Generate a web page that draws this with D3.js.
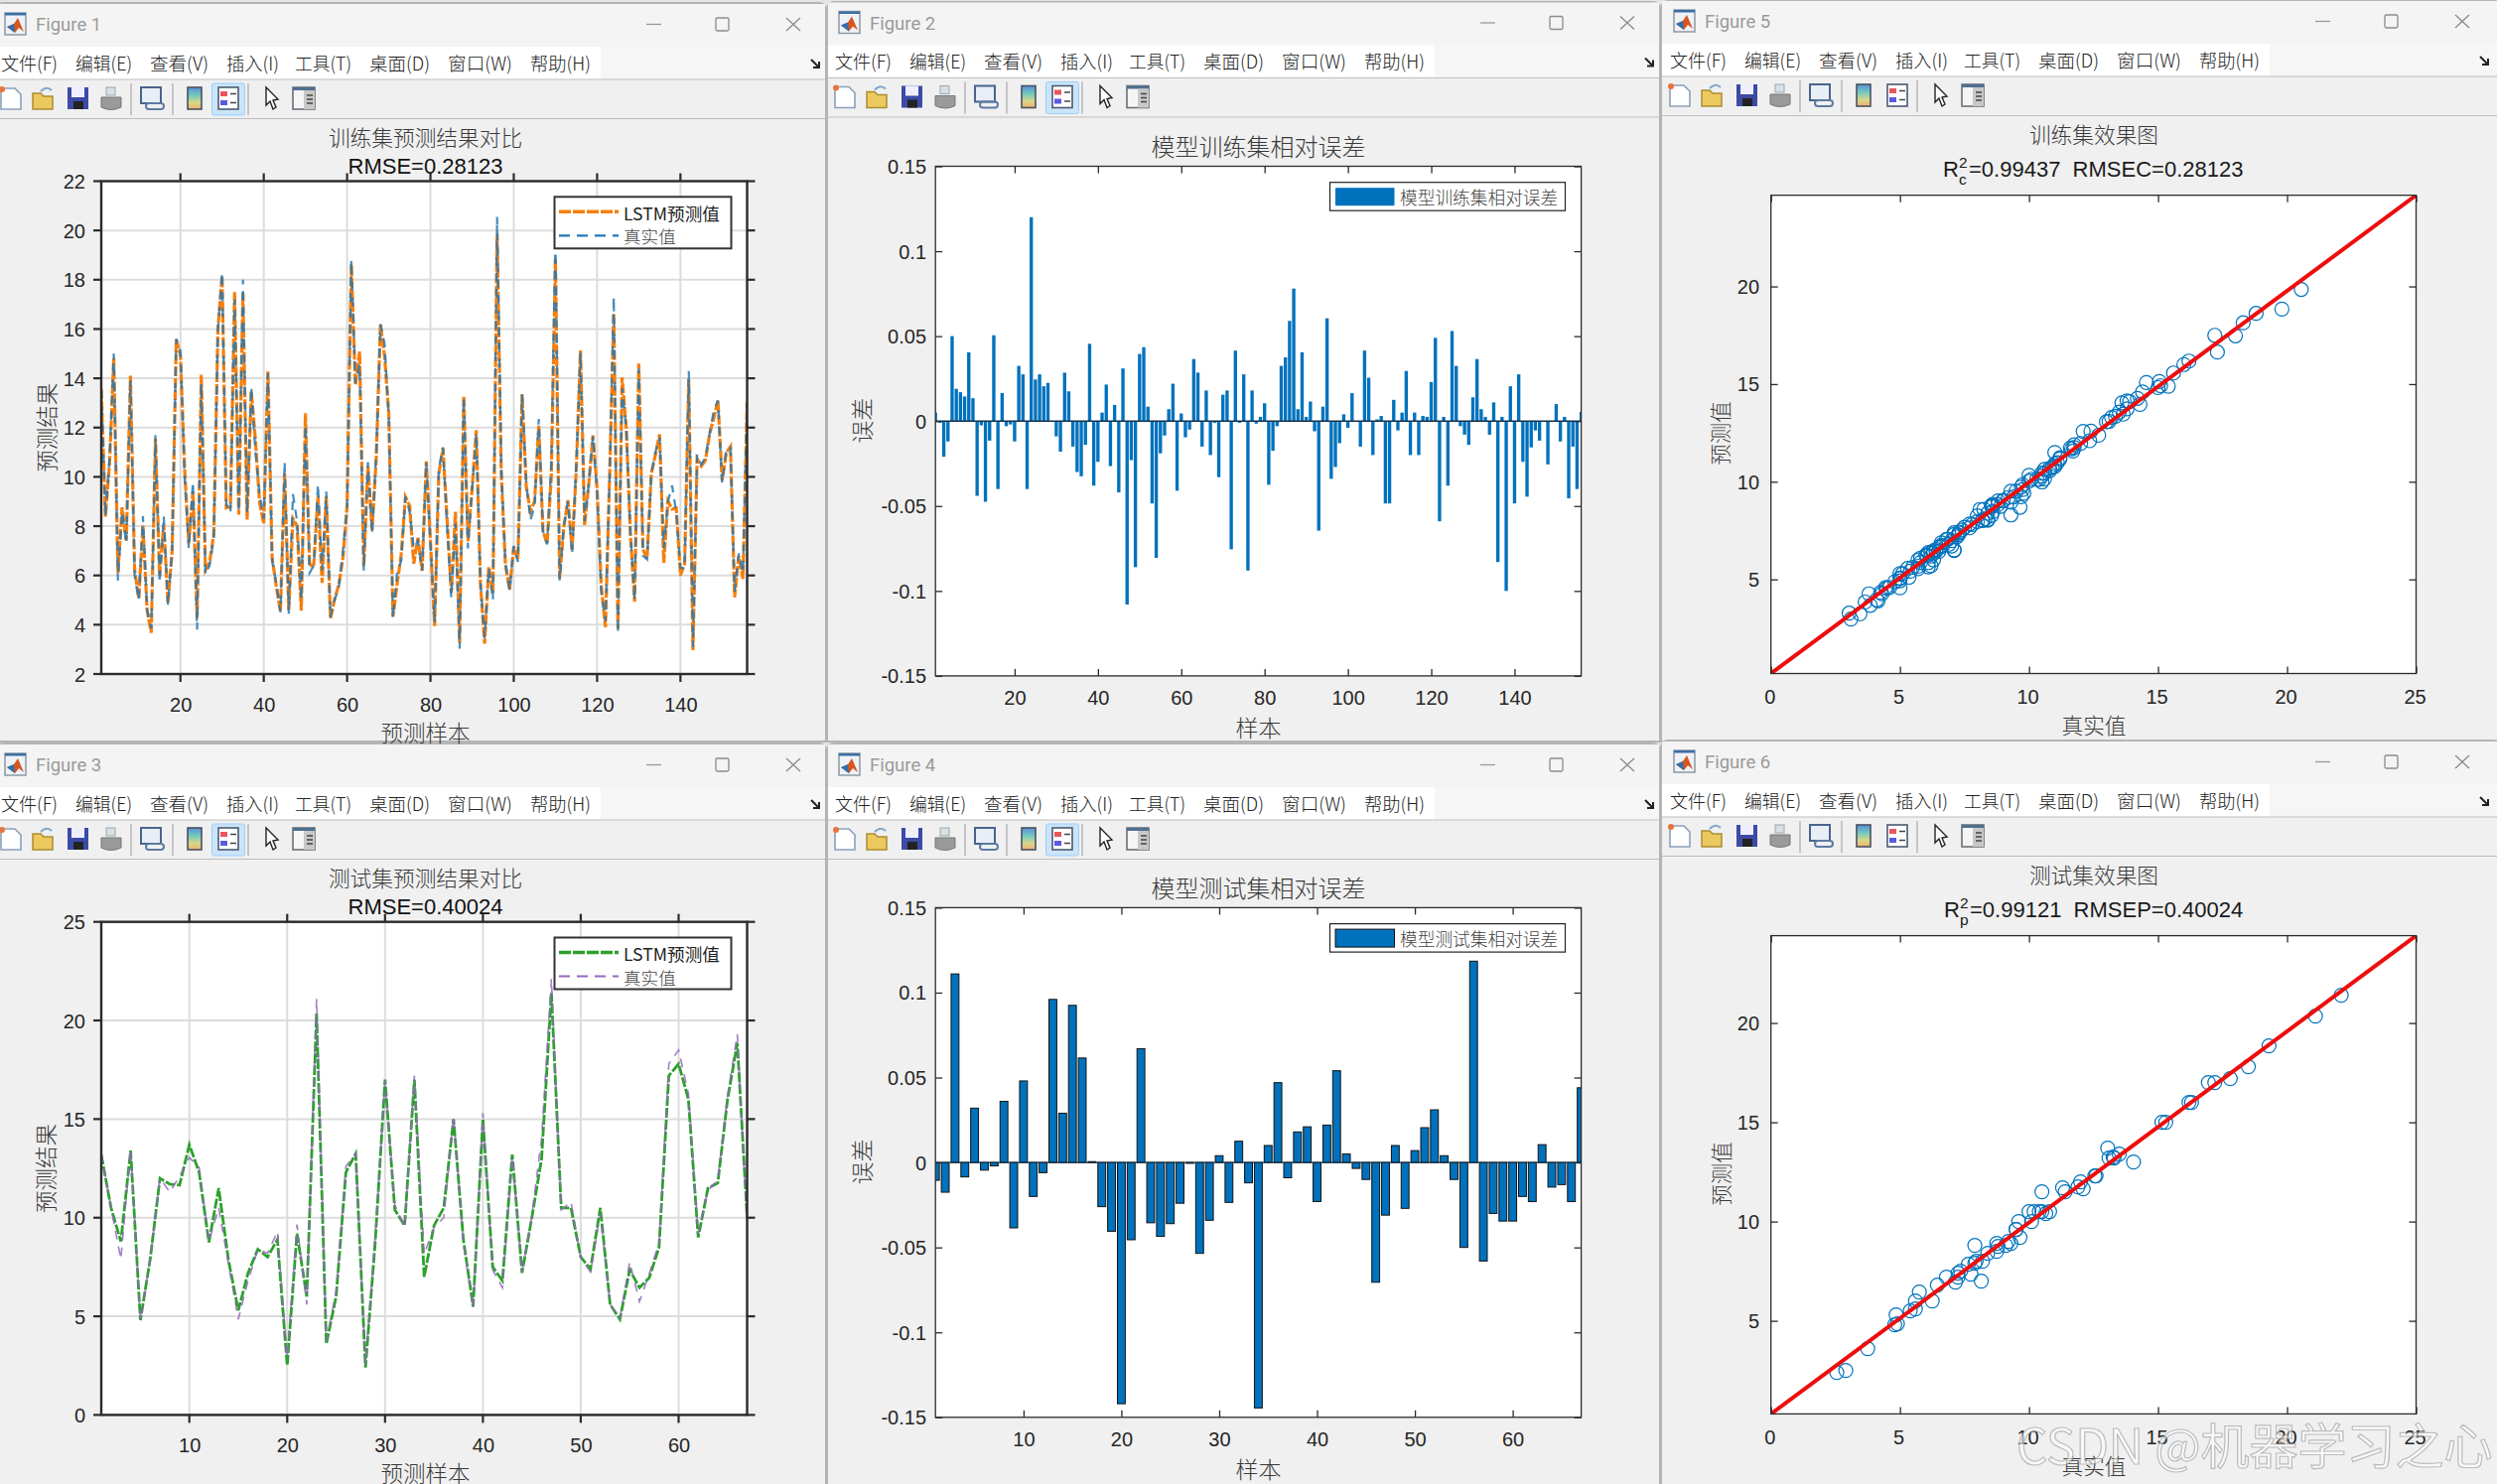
<!DOCTYPE html>
<html><head><meta charset="utf-8">
<script src="https://cdn.jsdelivr.net/npm/d3@7/dist/d3.min.js"></script>
<style>html,body{margin:0;padding:0;background:#e4e4e4;overflow:hidden}svg{display:block}</style>
</head><body><svg id="c" width="2515" height="1495"></svg>
<script>
const trainTrue=[13.5,8.4,10.8,15,5.8,8.6,7.3,13.9,6,5,
8.4,4.6,3.85,11.7,5.7,8.4,4.8,7,15.6,15.1,
10,7.1,9.8,3.8,13.8,6.05,6.4,7.5,16,18.3,
8.9,8.55,17.2,8.6,18,8.55,13.65,11,9.3,8.3,
14.2,6.6,5.7,4.5,10.6,4.45,9.3,8.2,5,12.1,
6.1,6.4,9.7,6.2,9.4,4.3,5,5.5,7,8.8,
18.8,13.8,14.55,6.2,10.6,7.7,11,16.2,15.4,12.4,
4.25,6.1,6.6,9.2,8.6,7.1,7.4,6.2,10.6,7.3,
4.1,10.3,11.2,8,5.1,8.1,3.03,13.2,7.1,9.5,
11.75,5.7,3.45,6.3,5,20.55,10.4,6.5,5.4,7.2,
6.55,13.35,9.75,8.25,8.8,12.35,7.8,7.26,10.5,19.8,
5.8,8,9,6.85,10.5,15.05,8.2,9.7,11.65,9.3,
5.3,4.15,10,17.3,3.65,13.6,12,7.7,5,14.4,
6.8,6.65,10.1,11,11.6,7.1,9,9.65,8.55,6.3,
6.3,14.3,3.1,10.9,10.5,10.8,11.75,12.7,13.1,9.75,
11.1,11.2,5.35,6.9,6.1,13];
const trainPred=[13.57,8.39,10.57,14.82,6.09,8.76,7.42,14.1,6.24,5.07,
8.03,4.59,3.67,11.57,5.99,8.06,4.88,6.98,15.57,14.92,
10.33,7.3,9.41,4.26,14.14,6.22,6.53,7.67,16,18.14,
8.74,8.79,17.5,8.47,17.47,8.27,13.46,11.5,8.95,8.1,
14.27,6.74,5.55,4.54,10.15,4.59,8.3,8.01,4.57,12.58,
6.37,6.45,9.23,5.7,9.22,4.26,5.04,5.62,6.71,8.84,
18.62,13.73,15.08,6.38,10.44,7.84,10.78,16.18,14.89,12.59,
4.33,5.64,6.87,9.19,8.84,6.48,7.53,6.19,10.63,7.38,
3.95,10.12,11.17,8.26,5.29,8.58,3.27,13.29,7.39,9.52,
11.89,5.67,3.23,6.35,5.3,19.85,10.12,6.42,5.42,7.17,
6.66,13.35,9.6,8.59,9.02,12.1,7.81,7.28,9.99,18.84,
5.87,7.96,9.05,7.05,10.29,15.13,8.04,9.73,11.68,9.51,
5.56,3.9,10.03,16.64,3.84,14.04,11.96,7.64,4.93,14.6,
7.05,6.7,10.13,10.91,11.73,6.51,9.02,8.69,8.73,6,
6.47,13.96,2.97,10.73,10.44,10.68,11.75,12.38,13.09,9.85,
10.97,11.23,5.11,6.8,5.86,13.07];
const trainErr=[.005,-.001,-.021,-.012,.05,.019,.017,.0145,.0405,.0135,
-.044,-.0025,-.0475,-.0115,.0505,-.04,.0165,-.003,-.002,-.012,
.0325,.0275,-.04,.12,.0245,.0275,.0205,.0225,0,-.009,
-.018,.0285,.0175,-.015,-.03,-.0325,-.014,.0455,-.038,-.024,
.005,.0215,-.0265,.0095,-.042,.031,-.108,-.023,-.086,.0395,
.0435,.0085,-.0485,-.0805,-.019,-.0085,.007,.022,-.041,.0045,
-.0095,-.005,.0365,.0285,-.015,.018,-.02,-.001,-.033,.0155,
.018,-.0755,.0415,-.001,.0275,-.088,.018,-.0015,.0025,.0105,
-.0375,-.0175,-.003,.0325,.0375,.059,.078,.007,.0405,.0025,
.0115,-.006,-.0645,.0085,.0605,-.034,-.027,-.013,.004,-.004,
.0165,0,-.015,.0415,.0255,-.02,.001,.003,-.0485,-.0485,
.0125,-.0055,.005,.0295,-.02,.005,-.02,.003,.0025,.023,
.049,-.059,.0025,-.038,.053,.0325,-.003,-.008,-.014,.014,
.0365,.007,.0025,-.008,.011,-.083,.0025,-.1,.0205,-.0485,
.0275,-.024,-.0445,-.0155,-.0055,-.0115,0,-.0255,-.0005,.01,
-.012,.0025,-.0455,-.015,-.04,.0055];
const testTrue=[13.3,10.5,7.9,13.5,4.8,7.9,12,11.3,12.1,13.05,
12.55,8.8,10.5,7.65,4.85,6.8,8.4,8.2,9.3,2.9,
9.65,5.6,21.1,3.75,6.25,12.6,13.26,2.55,9.1,16.95,
10.65,9.5,17.2,8.15,9.5,10,15.15,8.75,5.4,15.3,
7.35,6.45,13.1,7.25,10.1,14.05,22.1,10.4,10.8,7.95,
7.25,10.2,5.6,4.9,7.75,5.75,7.15,8.75,17.8,18.5,
16.3,9.2,11.4,11.9,16.2,19.3,9.6];
const testPred=[13.2,10.5,8.8,13.4,4.8,7.9,12,11.7,11.65,13.7,
12.3,8.75,11.5,7.85,5.3,7.2,8.4,8,8.9,2.5,
9.2,6,20.35,3.6,6,12.3,13.25,2.4,8.8,17,
10.4,9.6,17,7,9.6,10.5,15,8.9,5.5,15,
7.5,6.8,13.2,7.2,10,13,21.4,10.5,10.5,8,
7.4,10.5,5.6,4.85,7.35,6.45,6.95,8.5,17.2,17.8,
16,9,11.5,11.75,16,18.85,10];
const testErr=[-.0105,-.0175,.111,-.0085,.032,-.0045,-.002,.036,-.0385,.048,
-.02,-.006,.096,.029,.0925,.0615,.0005,-.026,-.0405,-.142,
-.0455,.067,-.0355,-.0435,-.036,-.024,-.0005,-.0535,-.034,.004,
-.0235,.0125,-.012,-.1445,.01,.047,-.009,.018,.021,-.023,
.022,.054,.005,-.0035,-.01,-.0705,-.031,.01,-.027,.007,
.0205,.031,.004,-.01,-.05,.1185,-.058,-.03,-.0345,-.0345,
-.02,-.023,.0105,-.0145,-.013,-.023,.044];
const trainTicks=[20,40,60,80,100,120,140];
const testTicks=[10,20,30,40,50,60];
const errTicks=[-.15,-.1,-.05,0,.05,.1,.15];
const errLabels=["-0.15","-0.1","-0.05","0","0.05","0.1","0.15"];
const trainLineTicksY=[2,4,6,8,10,12,14,16,18,20,22];
const testLineTicksY=[0,5,10,15,20,25];
const scatterTicksX=[0,5,10,15,20,25];
const scatterTicksY=[5,10,15,20];
const refX=[0,25];
const refY5=[0.18,24.67];
const refY6=[0.31,24.4];
const menuLabels=["文件(F)","编辑(E)","查看(V)","插入(I)","工具(T)","桌面(D)","窗口(W)","帮助(H)"];

const CJK="'Noto Sans CJK SC','Liberation Sans',sans-serif", LAT="'Liberation Sans',Arial,sans-serif";
const svg=d3.select("#c");
const defs=svg.append("defs");
const grad=defs.append("linearGradient").attr("id","cb").attr("x1",0).attr("x2",0).attr("y1",0).attr("y2",1);
[["0%","#5a8fd8"],["35%","#6fc8c0"],["70%","#d6d88a"],["100%","#f0b070"]].forEach(s=>grad.append("stop").attr("offset",s[0]).attr("stop-color",s[1]));

function chrome(w){
  const g=svg.append("g");
  g.append("path").attr("d",`M${w.x0},${w.y1} V${w.y0+8} Q${w.x0},${w.y0} ${w.x0+8},${w.y0} H${w.x1-8} Q${w.x1},${w.y0} ${w.x1},${w.y0+8} V${w.y1} Z`)
    .attr("fill","#f0f0f0").attr("stroke","#b4b4b4").attr("stroke-width",2);
  const l=g.append("g").attr("transform",`translate(${w.dx},${w.dy})`);
  const W=w.x1-w.x0;
  l.append("rect").attr("x",w.x0-w.dx+1).attr("y",4).attr("width",W-2).attr("height",43).attr("fill","#f4f4f4");
  l.append("rect").attr("x",w.x0-w.dx+1).attr("y",47).attr("width",W-2).attr("height",33).attr("fill","#f6f6f6");
  l.append("rect").attr("x",w.x0-w.dx+1).attr("y",47).attr("width",604-(w.x0-w.dx)).attr("height",33).attr("fill","#ffffff");
  [80,119.5].forEach(y=>l.append("line").attr("x1",w.x0-w.dx+1).attr("x2",w.x1-w.dx-1).attr("y1",y).attr("y2",y).attr("stroke","#bdbdbd").attr("stroke-width",1.2));
  // logo
  l.append("rect").attr("x",5).attr("y",13).attr("width",21).attr("height",22).attr("fill","#eef2f6").attr("stroke","#8b98a5").attr("stroke-width",1.5);
  l.append("rect").attr("x",5).attr("y",13).attr("width",21).attr("height",2.5).attr("fill","#3a6ea5");
  l.append("path").attr("d","M7,27 L14,24 L18,18 L24,32 L19,28 L15,33 Z").attr("fill","#d9551f");
  l.append("path").attr("d","M7,27 L14,24 L15,33 Z").attr("fill","#2f6fb0");
  l.append("text").attr("x",36).attr("y",25).attr("dominant-baseline","central").attr("font-family","Roboto,"+LAT).attr("font-size",18.5).attr("fill","#9a9a9a").text(w.name);
  // buttons
  l.append("line").attr("x1",651).attr("x2",666).attr("y1",24.5).attr("y2",24.5).attr("stroke","#9a9a9a").attr("stroke-width",1.3);
  l.append("rect").attr("x",721).attr("y",18).attr("width",13).attr("height",13).attr("rx",1.5).attr("fill","none").attr("stroke","#8a8a8a").attr("stroke-width",1.3);
  l.append("path").attr("d","M792,18 L806,31 M806,18 L792,31").attr("stroke","#8a8a8a").attr("stroke-width",1.3);
  // menu
  const mx=[1,76,151,228,297,372,451,534];
  menuLabels.forEach((m,i)=>l.append("text").attr("x",mx[i]).attr("y",62.5).attr("dominant-baseline","central").attr("font-family",CJK).attr("font-size",18.5).attr("font-weight",300).attr("fill","#222").attr("textLength",[57,57,59,53,57,61,65,61][i]).attr("lengthAdjust","spacingAndGlyphs").text(m));
  l.append("path").attr("d","M817,60 L825,68 M825,62 V68 H819").attr("stroke","#222").attr("fill","none").attr("stroke-width",2);
  // icons
  l.append("path").attr("d","M1,89 H15 L21,95 V110 H1 Z").attr("fill","#fff").attr("stroke","#8aa0bd").attr("stroke-width",1.6);
  l.append("circle").attr("cx",2).attr("cy",90).attr("r",3).attr("fill","#e8743b");
  l.append("path").attr("d","M33,110 V94 H41 L44,97 H53 V110 Z").attr("fill","#ecc95f").attr("stroke","#ab8c32").attr("stroke-width",1.5);
  l.append("path").attr("d","M41,92 Q47,86 52,91").attr("stroke","#7fa7c9").attr("stroke-width",2).attr("fill","none");
  l.append("rect").attr("x",68).attr("y",88).attr("width",21).attr("height",22).attr("fill","#3c4aa6");
  l.append("rect").attr("x",72).attr("y",88).attr("width",13).attr("height",10).attr("fill","#eef");
  l.append("rect").attr("x",74).attr("y",102).attr("width",10).attr("height",8).attr("fill","#222");
  l.append("rect").attr("x",107).attr("y",88).attr("width",9).attr("height",8).attr("fill","#d8dfe6").attr("stroke","#9aa").attr("stroke-width",1);
  l.append("path").attr("d","M102,98 H122 V108 Q112,113 102,108 Z").attr("fill","#9a9a9a").attr("stroke","#777");
  [132,174,250].forEach(x=>l.append("line").attr("x1",x).attr("x2",x).attr("y1",84).attr("y2",116).attr("stroke","#a8a8a8").attr("stroke-width",1.2));
  l.append("rect").attr("x",142).attr("y",88).attr("width",20).attr("height",16).attr("fill","#e8eef5").attr("stroke","#48648c").attr("stroke-width",2);
  l.append("rect").attr("x",147).attr("y",104).attr("width",18).attr("height",6).attr("rx",3).attr("fill","none").attr("stroke","#5d7ba3").attr("stroke-width",2);
  l.append("rect").attr("x",189).attr("y",88).attr("width",14).attr("height",22).attr("fill","url(#cb)").attr("stroke","#4a5260").attr("stroke-width",1.6);
  if(w.active) l.append("rect").attr("x",213.5).attr("y",84).attr("width",33).attr("height",32).attr("rx",2).attr("fill","#cce4f7").attr("stroke","#99d1ff");
  l.append("rect").attr("x",220).attr("y",88).attr("width",20).attr("height",22).attr("fill","#fff").attr("stroke","#4a5a72").attr("stroke-width",1.6);
  l.append("rect").attr("x",222).attr("y",92).attr("width",7).attr("height",5).attr("fill","#e8565a");
  l.append("rect").attr("x",222).attr("y",101).attr("width",7).attr("height",5).attr("fill","#5a5ae0");
  l.append("path").attr("d","M232,94.5 H238 M232,103.5 H238").attr("stroke","#444").attr("stroke-width",1.5);
  l.append("path").attr("d","M268,88 L268,106 L272,102 L275,110 L278,108 L275,101 L280,100 Z").attr("fill","#fff").attr("stroke","#222").attr("stroke-width",1.4);
  l.append("rect").attr("x",295).attr("y",88).attr("width",22).attr("height",22).attr("fill","#f5f5f5").attr("stroke","#6a7078").attr("stroke-width",1.6);
  l.append("rect").attr("x",295).attr("y",88).attr("width",22).attr("height",3).attr("fill","#4f6f8f");
  l.append("rect").attr("x",306).attr("y",91).attr("width",11).attr("height",19).attr("fill","#c8c8c8");
  l.append("path").attr("d","M309,96 H315 M309,100 H315 M309,104 H315").attr("stroke","#444").attr("stroke-width",1.3);
}

function axes(o){
  const g=svg.append("g");
  g.append("rect").attr("x",o.l).attr("y",o.t).attr("width",o.r-o.l).attr("height",o.b-o.t).attr("fill","#fff");
  const x=d3.scaleLinear().domain(o.xd).range([o.l,o.r]);
  const y=d3.scaleLinear().domain(o.yd).range([o.b,o.t]);
  if(o.grid){
    g.selectAll(".gx").data(o.xt).join("line").attr("x1",d=>x(d)).attr("x2",d=>x(d)).attr("y1",o.t).attr("y2",o.b).attr("stroke","#dcdcdc").attr("stroke-width",2);
    g.selectAll(".gy").data(o.yt).join("line").attr("y1",d=>y(d)).attr("y2",d=>y(d)).attr("x1",o.l).attr("x2",o.r).attr("stroke","#dcdcdc").attr("stroke-width",2);
  }
  const id="clip"+o.id;
  defs.append("clipPath").attr("id",id).append("rect").attr("x",o.l).attr("y",o.t).attr("width",o.r-o.l).attr("height",o.b-o.t);
  const plot=g.append("g").attr("clip-path",`url(#${id})`);
  const over=g.append("g");
  const ts=o.tick, sw=o.sw, col="#2b2b2b";
  const fmtY=o.yf||(d=>d);
  const mk=(ax,tr)=>{const a=over.append("g").attr("transform",tr).call(ax);a.select(".domain").remove();a.selectAll("line").attr("stroke",col).attr("stroke-width",sw);return a;};
  const ab=mk(d3.axisBottom(x).tickValues(o.xt).tickSize(ts).tickFormat(d=>d),`translate(0,${o.b})`);
  ab.selectAll("text").attr("x",o.xlx||0).attr("y",o.xly-o.b).attr("dy",0).attr("dominant-baseline","central").attr("font-size",20).attr("font-family",LAT).attr("fill","#262626");
  const al=mk(d3.axisLeft(y).tickValues(o.yt).tickSize(ts).tickFormat(fmtY),`translate(${o.l},0)`);
  al.selectAll("text").attr("x",o.ylx-o.l).attr("dy",0).attr("dominant-baseline","central").attr("font-size",20).attr("font-family",LAT).attr("fill","#262626");
  const at=mk(d3.axisTop(x).tickValues(o.xt).tickSize(ts),`translate(0,${o.t})`); at.selectAll("text").remove();
  const ar=mk(d3.axisRight(y).tickValues(o.yt).tickSize(ts),`translate(${o.r},0)`); ar.selectAll("text").remove();
  over.append("rect").attr("x",o.l).attr("y",o.t).attr("width",o.r-o.l).attr("height",o.b-o.t).attr("fill","none").attr("stroke",col).attr("stroke-width",sw);
  return {x,y,plot,over};
}
function cjk(p,x,yy,s,t,fill,anchor,rot){
  const e=p.append("text").attr("x",x).attr("y",yy).attr("font-family",CJK).attr("font-size",s).attr("font-weight",300).attr("fill",fill||"#3a3a3a").attr("text-anchor",anchor||"middle").attr("dominant-baseline","central").text(t);
  if(rot) e.attr("transform",`rotate(-90 ${x} ${yy})`);
  return e;
}
function lineChart(o){
  const a=axes({id:o.id,l:102,r:752.5,t:o.t,b:o.b,xd:o.xd,yd:o.yd,xt:o.xt,yt:o.yt,tick:0,sw:2.4,grid:true,xly:o.b+30.5,ylx:86});
  o.xt.forEach(v=>{a.over.append("line").attr("x1",a.x(v)).attr("x2",a.x(v)).attr("y1",o.t-8).attr("y2",o.t).attr("stroke","#2b2b2b").attr("stroke-width",2.2);
    a.over.append("line").attr("x1",a.x(v)).attr("x2",a.x(v)).attr("y1",o.b).attr("y2",o.b+8).attr("stroke","#2b2b2b").attr("stroke-width",2.2);});
  o.yt.forEach(v=>{a.over.append("line").attr("y1",a.y(v)).attr("y2",a.y(v)).attr("x1",94).attr("x2",102).attr("stroke","#2b2b2b").attr("stroke-width",2.2);
    a.over.append("line").attr("y1",a.y(v)).attr("y2",a.y(v)).attr("x1",752.5).attr("x2",760.5).attr("stroke","#2b2b2b").attr("stroke-width",2.2);});
  const ln=d3.line().x((d,i)=>a.x(i+1)).y(d=>a.y(d));
  a.plot.append("path").attr("d",ln(o.pv)).attr("fill","none").attr("stroke",o.c1).attr("stroke-width",o.w1).attr("stroke-dasharray","10 2");
  a.plot.append("path").attr("d",ln(o.tv)).attr("fill","none").attr("stroke",o.c2).attr("stroke-width",o.w2).attr("stroke-opacity",.85).attr("stroke-dasharray","9 7");
  cjk(svg,428.5,o.t-45,21.7,o.title);
  svg.append("text").attr("x",428.5).attr("y",o.t-15.5).attr("text-anchor","middle").attr("dominant-baseline","central").attr("font-family",LAT).attr("font-size",22).attr("fill","#111").text(o.sub);
  cjk(svg,428.5,o.b+57.5,22.5,"预测样本");
  cjk(svg,45.5,(o.t+o.b)/2,22.5,"预测结果","#3a3a3a","middle",true);
  const g=svg.append("g"), lt=o.t+15.8;
  g.append("rect").attr("x",558.5).attr("y",lt).attr("width",178).attr("height",52).attr("fill","#fff").attr("stroke","#333").attr("stroke-width",2);
  g.append("line").attr("x1",563).attr("x2",623).attr("y1",lt+15).attr("y2",lt+15).attr("stroke",o.c1).attr("stroke-width",3.4).attr("stroke-dasharray","12 2");
  g.append("line").attr("x1",563).attr("x2",623).attr("y1",lt+39).attr("y2",lt+39).attr("stroke",o.c2).attr("stroke-width",2.2).attr("stroke-dasharray","11 7");
  g.append("text").attr("x",628).attr("y",lt+16).attr("dominant-baseline","central").attr("font-family",CJK).attr("font-size",17.6).attr("fill","#222").text("LSTM预测值");
  cjk(g,628,lt+39.5,17.6,"真实值","#444","start");
}
function barChart(o){
  const a=axes({id:o.id,l:942.2,r:1592.6,t:o.t,b:o.b,xd:o.xd,yd:[-.15,.15],xt:o.xt,yt:errTicks,yf:d=>errLabels[errTicks.indexOf(d)],tick:-7,sw:1.3,xly:o.b+22,ylx:933});
  const bw=a.x(1.8)-a.x(1);
  a.plot.selectAll("rect").data(o.v).join("rect").attr("x",(d,i)=>a.x(i+1)-bw/2).attr("width",bw)
    .attr("y",d=>a.y(Math.max(d,0))).attr("height",d=>Math.abs(a.y(d)-a.y(0)))
    .attr("fill","#0072BD").attr("stroke",o.edge).attr("stroke-width",o.edge==="none"?0:1);
  a.over.append("line").attr("x1",942.2).attr("x2",1592.6).attr("y1",a.y(0)).attr("y2",a.y(0)).attr("stroke","#15324a").attr("stroke-width",1.4);
  cjk(svg,1267.4,o.t-21,24,o.title);
  cjk(svg,1267.4,o.b+51.5,23,"样本");
  cjk(svg,867,(o.t+o.b)/2-0.5,23,"误差","#3a3a3a","middle",true);
  const lt=o.t+16.2;
  svg.append("rect").attr("x",1339.5).attr("y",lt).attr("width",237).attr("height",28.5).attr("fill","#fff").attr("stroke","#222").attr("stroke-width",1.2);
  svg.append("rect").attr("x",1345).attr("y",lt+5.5).attr("width",59.5).attr("height",18).attr("fill","#0072BD").attr("stroke",o.edge).attr("stroke-width",o.edge==="none"?0:1);
  cjk(svg,1410,lt+14,17.7,o.title,"#444","start");
}
function scatterChart(o){
  const a=axes({id:o.id,l:1783.7,r:2433.5,t:o.t,b:o.b,xd:[0,25],yd:o.yd,xt:scatterTicksX,yt:scatterTicksY,tick:-7,sw:1.3,xly:o.b+23.5,xlx:-1.5,ylx:1772});
  a.plot.selectAll("circle").data(o.tv).join("circle").attr("cx",d=>a.x(d)).attr("cy",(d,i)=>a.y(o.pv[i])).attr("r",7).attr("fill","none").attr("stroke","#0072BD").attr("stroke-width",1.2);
  a.plot.append("path").datum(refX).attr("d",d3.line().x(d=>a.x(d)).y((d,i)=>a.y(o.yd===refY5?refY5[i]:refY6[i]))).attr("stroke","#ee0d0d").attr("stroke-width",4).attr("fill","none");
  cjk(svg,2109,o.t-62,21.7,o.title);
  const by=o.t-19, bx=o.Rx;
  const t=(x,y,s,txt)=>svg.append("text").attr("x",x).attr("y",y).attr("font-family",LAT).attr("font-size",s).attr("fill","#1a1a1a").text(txt);
  t(bx,by,22,"R"); t(bx+16,by-9,15.5,"2"); t(bx+16,by+8,15.5,o.subc);
  t(bx+26,by,22,o.sub).attr("xml:space","preserve").style("white-space","pre");
  cjk(svg,2109,o.b+51,21.7,"真实值");
  cjk(svg,1732,(o.t+o.b)/2-1,21.5,"预测值","#3a3a3a","middle",true);
}

const windows=[
 {name:"Figure 1",x0:-4,x1:832,y0:3,y1:747,dx:0,dy:0,active:true},
 {name:"Figure 2",x0:833,x1:1672,y0:2,y1:747,dx:840,dy:-1.5,active:true},
 {name:"Figure 5",x0:1673,x1:2519,y0:1,y1:747,dx:1681,dy:-3,active:false},
 {name:"Figure 3",x0:-4,x1:832,y0:749,y1:1499,dx:0,dy:746,active:true},
 {name:"Figure 4",x0:833,x1:1672,y0:749,y1:1499,dx:840,dy:746,active:true},
 {name:"Figure 6",x0:1673,x1:2519,y0:746,y1:1499,dx:1681,dy:743,active:false}];
windows.forEach(chrome);

lineChart({id:1,t:182.5,b:679,xd:[1,156],yd:[2,22],xt:trainTicks,yt:trainLineTicksY,tv:trainTrue,pv:trainPred,c1:"#f57f0e",c2:"#2278b5",w1:3.2,w2:2.2,title:"训练集预测结果对比",sub:"RMSE=0.28123"});
lineChart({id:3,t:928.7,b:1425.4,xd:[1,67],yd:[0,25],xt:testTicks,yt:testLineTicksY,tv:testTrue,pv:testPred,c1:"#2ca02c",c2:"#9467bd",w1:2.8,w2:1.6,title:"测试集预测结果对比",sub:"RMSE=0.40024"});
barChart({id:2,t:167.5,b:680.9,xd:[1,156],xt:trainTicks,v:trainErr,edge:"none",title:"模型训练集相对误差"});
barChart({id:4,t:914.4,b:1427.8,xd:[1,67],xt:testTicks,v:testErr,edge:"#111",title:"模型测试集相对误差"});
scatterChart({id:5,t:196.7,b:678.5,yd:refY5,tv:trainTrue,pv:trainPred,title:"训练集效果图",sub:"=0.99437  RMSEC=0.28123",subc:"c",Rx:1957});
scatterChart({id:6,t:942.6,b:1424.4,yd:refY6,tv:testTrue,pv:testPred,title:"测试集效果图",sub:"=0.99121  RMSEP=0.40024",subc:"p",Rx:1958});

svg.append("text").attr("x",2031).attr("y",1453).attr("dominant-baseline","central").attr("font-family",CJK).attr("font-size",49).attr("fill","rgba(255,255,255,.55)").attr("stroke","rgba(150,150,150,.6)").attr("stroke-width",1.2).text("CSDN @机器学习之心");
</script></body></html>
